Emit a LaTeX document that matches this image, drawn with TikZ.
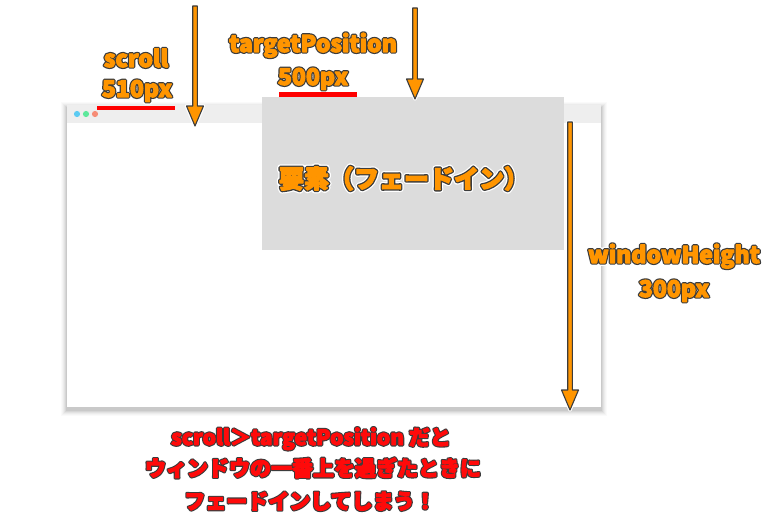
\documentclass[tikz,border=0pt]{standalone}
\usepackage{fontspec}
\setmainfont{Noto Sans CJK JP}
\newfontfamily\halofont{Noto Sans CJK JP}[BoldFeatures={FakeBold=25}]
\newfontfamily\edgefont{Noto Sans CJK JP}[BoldFeatures={FakeBold=15}]
\newfontfamily\fillfont{Noto Sans CJK JP}[BoldFeatures={FakeBold=4.5}]
\usetikzlibrary{calc}
\definecolor{barc}{HTML}{EEEEEE}
\definecolor{elemc}{HTML}{DCDCDC}
\definecolor{dota}{HTML}{5CCBF2}
\definecolor{dotb}{HTML}{5DE89B}
\definecolor{dotc}{HTML}{F68C76}
\definecolor{org}{HTML}{FF9500}
\definecolor{redt}{HTML}{FF0A0A}
\definecolor{outl}{HTML}{3C3C3C}
% outlined text: white halo, dark edge, coloured fill
\newcommand\otext[2]{%
  \special{pdf:literal direct 1 j 1 J}%
  \rlap{\halofont\color{white}#2}%
  \rlap{\edgefont\color{outl}#2}%
  {\fillfont\color{#1}#2}}
\newcommand\varrow[2]{%
  \draw[arrowbody] ($(#1)+(-2.3,0)$) -- ($(#1)+(2.3,0)$) -- ($(#2)+(2.3,-20)$) -- ($(#2)+(8.5,-20)$) -- (#2) -- ($(#2)+(-8.5,-20)$) -- ($(#2)+(-2.3,-20)$) -- cycle;}
\tikzset{
  arrowbody/.style={fill=org, draw=outl, line width=1.1pt, line join=round,
    preaction={draw=white, line width=3.4pt, line join=round}},
  lbl/.style={inner sep=0pt, anchor=base, font=\bfseries\fontsize{23}{24}\selectfont},
  elbl/.style={inner sep=0pt, anchor=base, font=\bfseries\fontsize{25}{26}\selectfont},
  blbl/.style={inner sep=0pt, anchor=base, font=\bfseries\fontsize{21}{22}\selectfont},
  uline/.style={draw=red, line width=4.6pt},
  winbox/.style={fill=white, inner sep=0pt, anchor=north west, minimum width=534pt, minimum height=302pt},
  elembox/.style={fill=elemc, inner sep=0pt, anchor=north west, minimum width=302pt, minimum height=153pt},
}
\begin{document}
\begin{tikzpicture}[x=1pt,y=-1pt]
\useasboundingbox[fill=white] (0,0) rectangle (768,519);
% window shadow
\foreach \i/\o in {6/0.02,5/0.025,4/0.03,3/0.04,2/0.05,1/0.06}{
  \fill[black,opacity=\o] (67-\i,105-\i+2.5) rectangle (601+\i,407+\i+2.5);
}
\node[winbox] (win) at (67,105) {};
\fill[barc] (win.north west) rectangle ($(win.north east)+(0,18)$);
\fill[dota] (77,114) circle (3.1);
\fill[dotb] (86,114) circle (3.1);
\fill[dotc] (95,114) circle (3.1);
% element
\node[elembox] (elem) at (262,97) {};
\node[elbl] (etxt) at (404,188) {\otext{org}{要素（フェードイン）}};
% arrows
\coordinate (a1s) at (195,6);
\coordinate (a1e) at (195,126);
\coordinate (a2s) at (415,8);
\coordinate (a2e) at (415,99);
\coordinate (a3s) at (570,122);
\coordinate (a3e) at (570,410);
\varrow{a1s}{a1e}
\varrow{a2s}{a2e}
\varrow{a3s}{a3e}
% labels
\node[lbl] (scr) at (136,67) {\otext{org}{scroll}};
\node[lbl] (s510) at (137,97) {\otext{org}{510px}};
\node[lbl] (tp) at (313,52) {\otext{org}{targetPosition}};
\node[lbl] (t500) at (313,85) {\otext{org}{500px}};
\node[lbl] (wh) at (674,263) {\otext{org}{windowHeight}};
\node[lbl] (w300) at (674,297) {\otext{org}{300px}};
% underlines
\coordinate (u1a) at (97,108);
\coordinate (u1b) at (175,108);
\coordinate (u2a) at (279,94.5);
\coordinate (u2b) at (357,94.5);
\draw[uline] (u1a) -- (u1b);
\draw[uline] (u2a) -- (u2b);
% bottom text
\node[blbl] (b1) at (311,445) {\otext{redt}{scroll＞targetPosition だと}};
\node[blbl] (b2) at (313,476) {\otext{redt}{ウィンドウの一番上を過ぎたときに}};
\node[blbl] (b3) at (310,509) {\otext{redt}{フェードインしてしまう！}};
\end{tikzpicture}
\end{document}
